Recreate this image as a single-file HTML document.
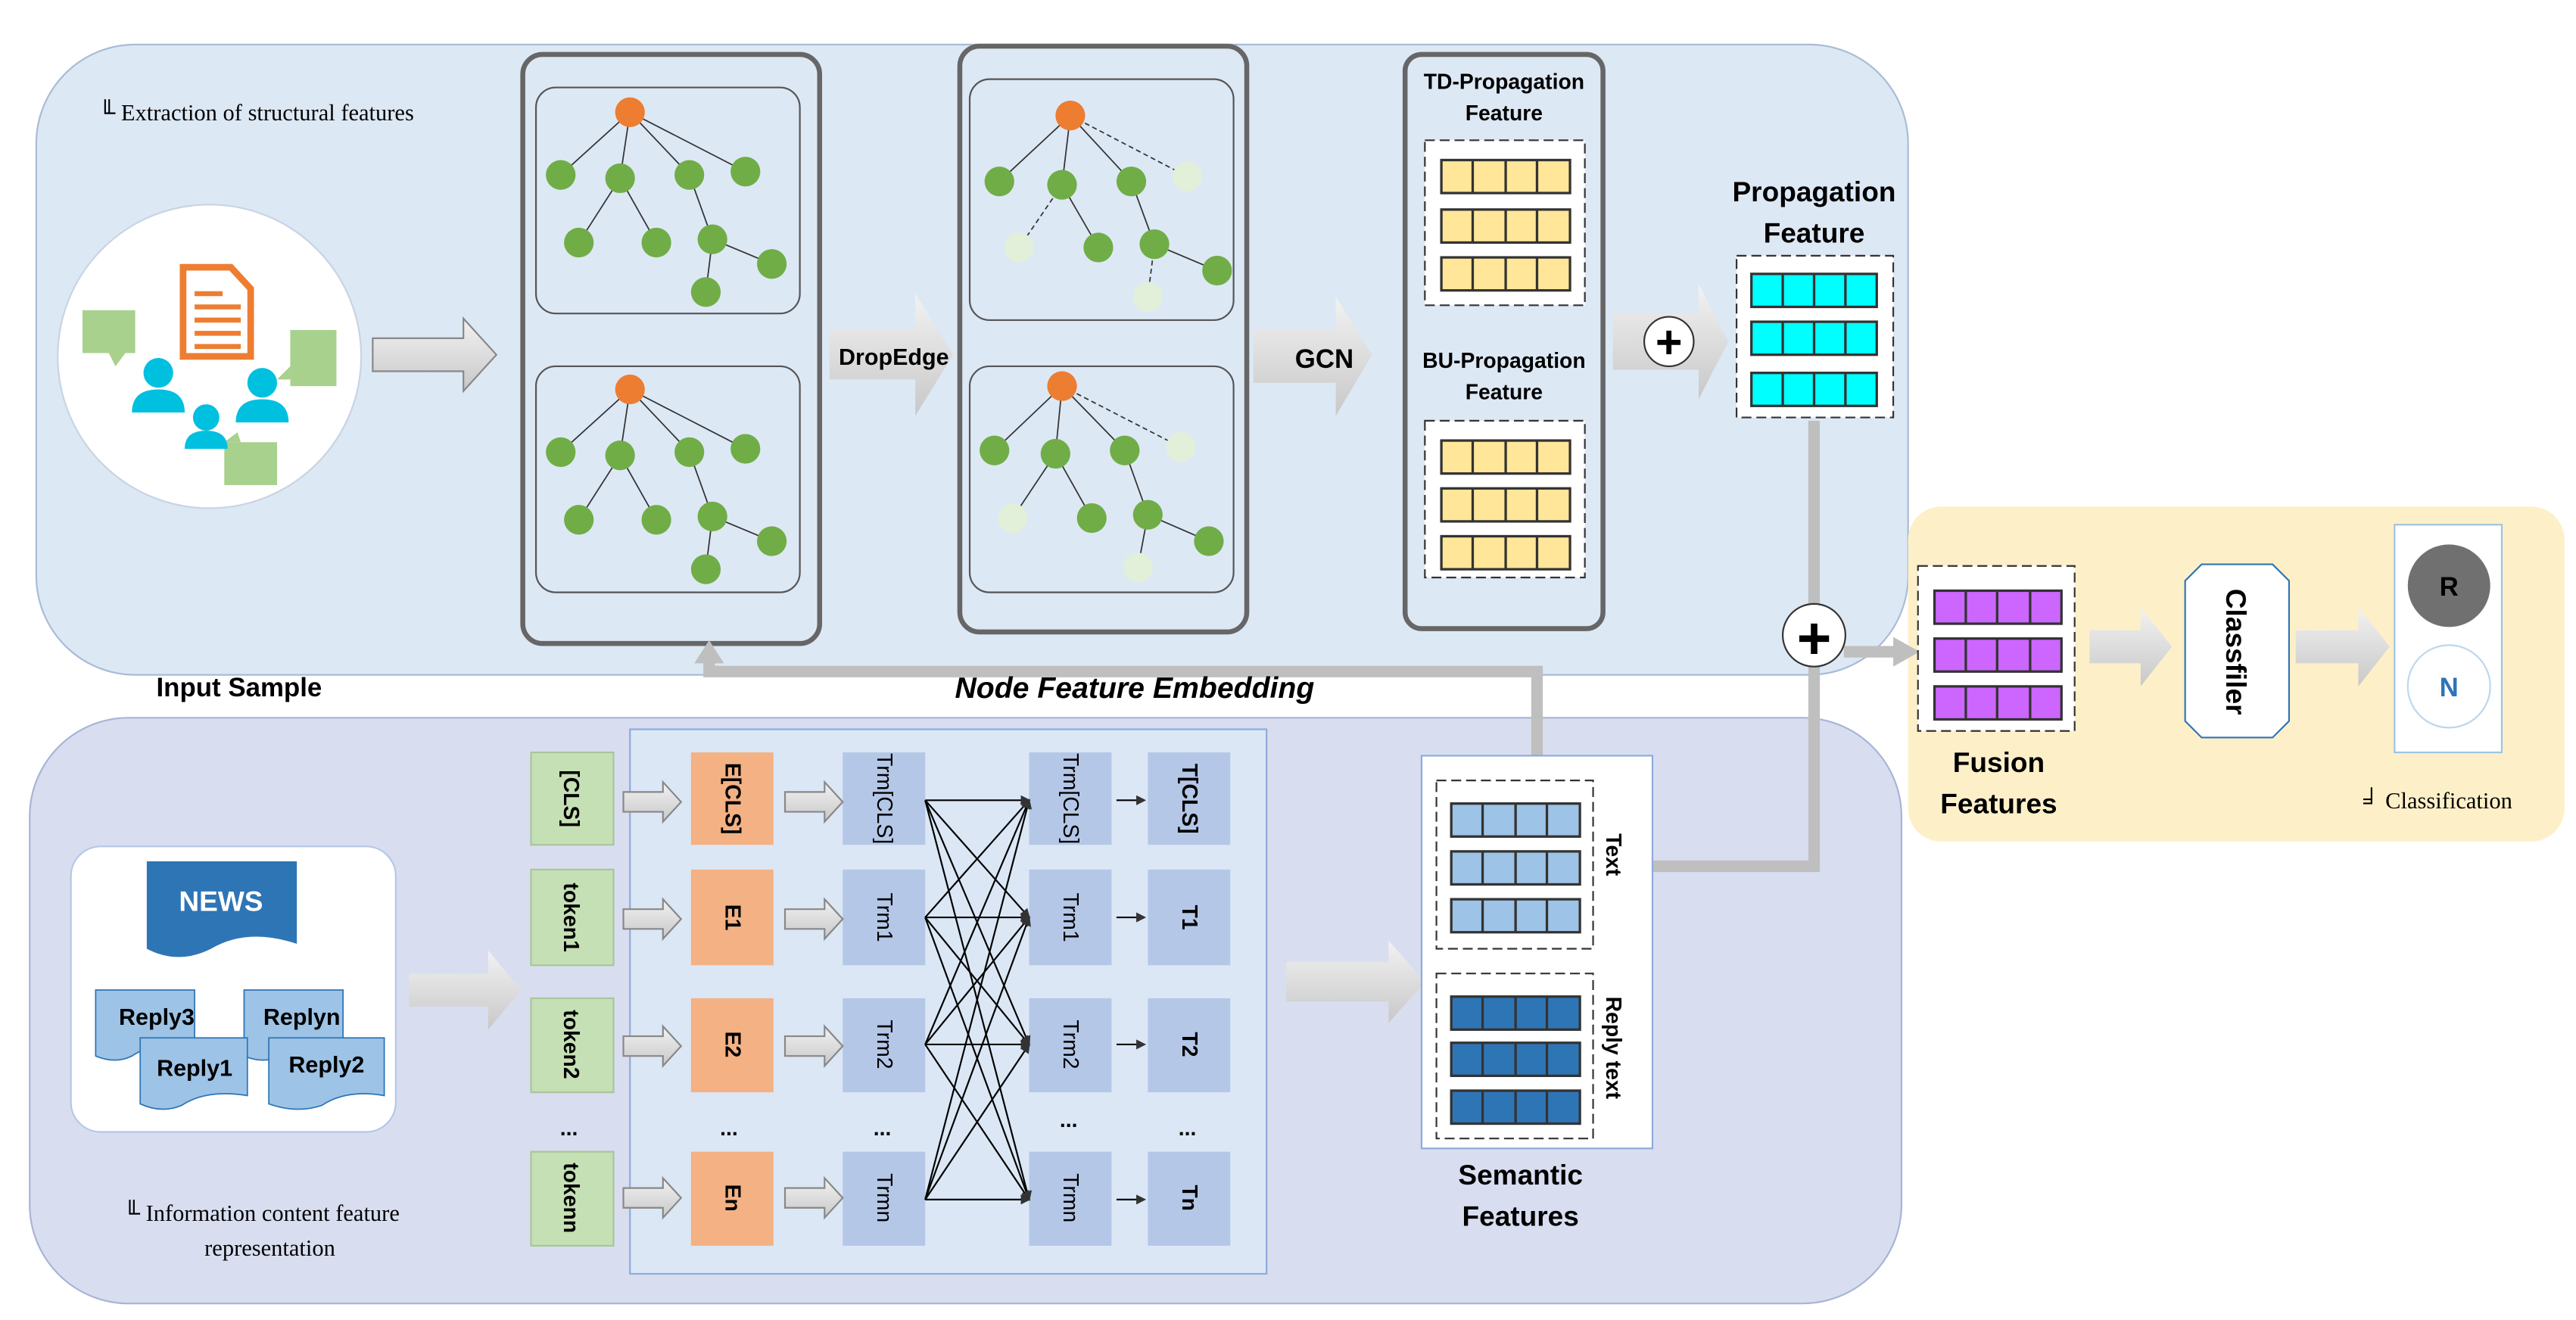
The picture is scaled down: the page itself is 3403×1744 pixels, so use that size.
<!DOCTYPE html>
<html><head><meta charset="utf-8"><style>html,body{margin:0;padding:0;background:#fff}svg{display:block}</style></head>
<body>
<svg width="3403" height="1744" viewBox="0 0 1562 800" preserveAspectRatio="none" xmlns="http://www.w3.org/2000/svg" font-family="Liberation Sans, sans-serif">
<defs>
<marker id="ah" markerWidth="8" markerHeight="8" refX="7" refY="4" orient="auto"><path d="M0,0 L8,4 L0,8 z" fill="#000"/></marker>
<marker id="ahs" markerWidth="6" markerHeight="6" refX="5" refY="3" orient="auto"><path d="M0,0 L6,3 L0,6 z" fill="#333"/></marker>
<linearGradient id="ga" x1="0" y1="0" x2="0" y2="1"><stop offset="0" stop-color="#f2f2f2"/><stop offset="1" stop-color="#c8c8c8"/></linearGradient>
<g id="barr"><path d="M0,-10 L55,-10 L55,-22 L75,0 L55,22 L55,10 L0,10 z" fill="url(#ga)" stroke="#888" stroke-width="1"/></g>
<g id="sarr"><path d="M0,-6 L24,-6 L24,-12 L35,0 L24,12 L24,6 L0,6 z" fill="url(#ga)" stroke="#888" stroke-width="1"/></g>
</defs>
<!-- panels -->
<rect x="22" y="27" width="1135" height="382" rx="60" fill="#dde8f5" stroke="#a8bcd6"/>
<rect x="18" y="435" width="1135" height="355" rx="60" fill="#d8def0" stroke="#a8b4d6"/>
<rect x="1157" y="307" width="398" height="203" rx="20" fill="#fdf0c8"/>

<text x="60" y="73" font-family="Liberation Serif, serif" font-size="14">╙ Extraction of structural features</text>
<text x="75" y="740" font-family="Liberation Serif, serif" font-size="14">╙ Information content feature</text>
<text x="124" y="761" font-family="Liberation Serif, serif" font-size="14">representation</text>
<text x="1433" y="490" font-family="Liberation Serif, serif" font-size="14">╛ Classification</text>

<!-- input circle -->
<circle cx="127" cy="216" r="92" fill="#fff" stroke="#c8d4e4"/>
<rect x="50" y="188" width="32" height="26" fill="#a9d18e"/><path d="M66,214 L76,214 L70,222z" fill="#a9d18e"/>
<rect x="176" y="200" width="28" height="34" fill="#a9d18e"/><path d="M176,222 L168,230 L176,230z" fill="#a9d18e"/>
<rect x="136" y="268" width="32" height="26" fill="#a9d18e"/><path d="M136,268 L144,262 L146,268z" fill="#a9d18e"/>
<path d="M111,162 L140,162 L152,175 L152,216 L111,216 z" fill="#fff" stroke="#ed7d31" stroke-width="4"/>
<g stroke="#ed7d31" stroke-width="3"><line x1="118" y1="178" x2="135" y2="178"/><line x1="118" y1="186" x2="146" y2="186"/><line x1="118" y1="194" x2="146" y2="194"/><line x1="118" y1="202" x2="146" y2="202"/><line x1="118" y1="210" x2="146" y2="210"/></g>
<g fill="#00c0e0"><circle cx="96" cy="226" r="9"/><path d="M80,250 Q80,236 96,236 Q112,236 112,250z"/>
<circle cx="159" cy="232" r="9"/><path d="M143,256 Q143,242 159,242 Q175,242 175,256z"/>
<circle cx="125" cy="253" r="8"/><path d="M112,272 Q112,261 125,261 Q138,261 138,272z"/></g>
<text x="145" y="422" font-size="16" font-weight="bold" text-anchor="middle">Input Sample</text>

<use href="#barr" x="226" y="215"/>
<!-- box1 -->
<rect x="317" y="33" width="180" height="357" rx="12" fill="none" stroke="#666" stroke-width="3"/>
<rect x="325" y="53" width="160" height="137" rx="12" fill="none" stroke="#555"/>
<rect x="325" y="222" width="160" height="137" rx="12" fill="none" stroke="#555"/>
<g stroke="#333" stroke-width="0.8">
<line x1="382" y1="68" x2="340" y2="106"/><line x1="382" y1="68" x2="376" y2="108"/><line x1="382" y1="68" x2="418" y2="106"/><line x1="382" y1="68" x2="452" y2="104"/>
<line x1="376" y1="108" x2="351" y2="147"/><line x1="376" y1="108" x2="398" y2="147"/><line x1="418" y1="106" x2="432" y2="145"/><line x1="432" y1="145" x2="428" y2="177"/><line x1="432" y1="145" x2="468" y2="160"/>
<line x1="382" y1="236" x2="340" y2="274"/><line x1="382" y1="236" x2="376" y2="276"/><line x1="382" y1="236" x2="418" y2="274"/><line x1="382" y1="236" x2="452" y2="272"/>
<line x1="376" y1="276" x2="351" y2="315"/><line x1="376" y1="276" x2="398" y2="315"/><line x1="418" y1="274" x2="432" y2="313"/><line x1="432" y1="313" x2="428" y2="345"/><line x1="432" y1="313" x2="468" y2="328"/>
</g>
<g fill="#70ad47"><circle cx="340" cy="106" r="9"/><circle cx="376" cy="108" r="9"/><circle cx="418" cy="106" r="9"/><circle cx="452" cy="104" r="9"/><circle cx="351" cy="147" r="9"/><circle cx="398" cy="147" r="9"/><circle cx="432" cy="145" r="9"/><circle cx="428" cy="177" r="9"/><circle cx="468" cy="160" r="9"/>
<circle cx="340" cy="274" r="9"/><circle cx="376" cy="276" r="9"/><circle cx="418" cy="274" r="9"/><circle cx="452" cy="272" r="9"/><circle cx="351" cy="315" r="9"/><circle cx="398" cy="315" r="9"/><circle cx="432" cy="313" r="9"/><circle cx="428" cy="345" r="9"/><circle cx="468" cy="328" r="9"/></g>
<circle cx="382" cy="68" r="9" fill="#ed7d31"/><circle cx="382" cy="236" r="9" fill="#ed7d31"/>

<path d="M503,200 L555,200 L555,178 L578,215 L555,252 L555,230 L503,230z" fill="url(#ga)"/>
<text x="542" y="221" font-size="14" font-weight="bold" text-anchor="middle">DropEdge</text>
<!-- box2 -->
<rect x="582" y="28" width="174" height="355" rx="12" fill="none" stroke="#666" stroke-width="3"/>
<rect x="588" y="48" width="160" height="146" rx="12" fill="none" stroke="#555"/>
<rect x="588" y="222" width="160" height="137" rx="12" fill="none" stroke="#555"/>
<g stroke="#333" stroke-width="0.8">
<line x1="649" y1="70" x2="606" y2="110"/><line x1="649" y1="70" x2="644" y2="112"/><line x1="649" y1="70" x2="686" y2="110"/><line x1="649" y1="70" x2="720" y2="107" stroke-dasharray="3,2"/>
<line x1="644" y1="112" x2="618" y2="150" stroke-dasharray="3,2"/><line x1="644" y1="112" x2="666" y2="150"/><line x1="686" y1="110" x2="700" y2="148"/><line x1="700" y1="148" x2="696" y2="180" stroke-dasharray="3,2"/><line x1="700" y1="148" x2="738" y2="164"/>
<line x1="644" y1="234" x2="603" y2="273"/><line x1="644" y1="234" x2="640" y2="275"/><line x1="644" y1="234" x2="682" y2="273"/><line x1="644" y1="234" x2="716" y2="271" stroke-dasharray="3,2"/>
<line x1="640" y1="275" x2="614" y2="314"/><line x1="640" y1="275" x2="662" y2="314"/><line x1="682" y1="273" x2="696" y2="312"/><line x1="696" y1="312" x2="690" y2="344"/><line x1="696" y1="312" x2="733" y2="328"/>
</g>
<g fill="#70ad47"><circle cx="606" cy="110" r="9"/><circle cx="644" cy="112" r="9"/><circle cx="686" cy="110" r="9"/><circle cx="666" cy="150" r="9"/><circle cx="700" cy="148" r="9"/><circle cx="738" cy="164" r="9"/>
<circle cx="603" cy="273" r="9"/><circle cx="640" cy="275" r="9"/><circle cx="682" cy="273" r="9"/><circle cx="662" cy="314" r="9"/><circle cx="696" cy="312" r="9"/><circle cx="733" cy="328" r="9"/></g>
<g fill="#e2efd9"><circle cx="720" cy="107" r="9"/><circle cx="618" cy="150" r="9"/><circle cx="696" cy="180" r="9"/><circle cx="716" cy="271" r="9"/><circle cx="614" cy="314" r="9"/><circle cx="690" cy="344" r="9"/></g>
<circle cx="649" cy="70" r="9" fill="#ed7d31"/><circle cx="644" cy="234" r="9" fill="#ed7d31"/>

<path d="M760,200 L810,200 L810,180 L832,215 L810,252 L810,232 L760,232z" fill="url(#ga)"/>
<text x="803" y="223" font-size="16" font-weight="bold" text-anchor="middle">GCN</text>
<!-- box3 -->
<rect x="852" y="33" width="120" height="348" rx="10" fill="none" stroke="#666" stroke-width="3"/>
<text x="912" y="54" font-size="13" font-weight="bold" text-anchor="middle">TD-Propagation</text>
<text x="912" y="73" font-size="13" font-weight="bold" text-anchor="middle">Feature</text>
<text x="912" y="223" font-size="13" font-weight="bold" text-anchor="middle">BU-Propagation</text>
<text x="912" y="242" font-size="13" font-weight="bold" text-anchor="middle">Feature</text>
<rect x="864" y="85" width="97" height="100" fill="#fff" stroke="#333" stroke-dasharray="6,3"/>
<rect x="864" y="255" width="97" height="95" fill="#fff" stroke="#333" stroke-dasharray="6,3"/>
<g fill="#ffe699" stroke="#333" stroke-width="1.5">
<rect x="874" y="97" width="78" height="20"/><rect x="874" y="127" width="78" height="20"/><rect x="874" y="156" width="78" height="20"/>
<rect x="874" y="267" width="78" height="20"/><rect x="874" y="296" width="78" height="20"/><rect x="874" y="325" width="78" height="20"/></g>
<g stroke="#333" stroke-width="1.5"><path d="M893,97v20M913,97v20M932,97v20M893,127v20M913,127v20M932,127v20M893,156v20M913,156v20M932,156v20M893,267v20M913,267v20M932,267v20M893,296v20M913,296v20M932,296v20M893,325v20M913,325v20M932,325v20"/></g>

<path d="M978,190 L1030,190 L1030,172 L1048,207 L1030,242 L1030,224 L978,224z" fill="url(#ga)"/>
<circle cx="1012" cy="207" r="15" fill="#fff" stroke="#333"/><text x="1012" y="217" font-size="28" font-weight="bold" text-anchor="middle">+</text>

<text x="1100" y="122" font-size="17" font-weight="bold" text-anchor="middle">Propagation</text>
<text x="1100" y="147" font-size="17" font-weight="bold" text-anchor="middle">Feature</text>
<rect x="1053" y="155" width="95" height="98" fill="#fff" stroke="#333" stroke-dasharray="6,3"/>
<g fill="#00ffff" stroke="#333" stroke-width="1.5"><rect x="1062" y="166" width="76" height="20"/><rect x="1062" y="195" width="76" height="20"/><rect x="1062" y="226" width="76" height="20"/></g>
<path d="M1081,166v20M1100,166v20M1119,166v20M1081,195v20M1100,195v20M1119,195v20M1081,226v20M1100,226v20M1119,226v20" stroke="#333" stroke-width="1.5"/>

<!-- grey connectors -->
<g stroke="#bfbfbf" stroke-width="7" fill="none">
<line x1="1100" y1="255" x2="1100" y2="368"/>
<polyline points="1002,525 1100,525 1100,403"/>
<line x1="1118" y1="395" x2="1150" y2="395"/>
<polyline points="932,458 932,407 430,407 430,400"/>
</g>
<path d="M1148,386 L1164,395 L1148,404z" fill="#bfbfbf"/>
<path d="M421,402 L430,388 L439,402z" fill="#bfbfbf"/>
<circle cx="1100" cy="385" r="19" fill="#fff" stroke="#333"/><text x="1100" y="399" font-size="36" font-weight="bold" text-anchor="middle">+</text>
<text x="688" y="423" font-size="18" font-weight="bold" font-style="italic" text-anchor="middle">Node Feature Embedding</text>

<!-- fusion -->
<rect x="1163" y="343" width="95" height="100" fill="#fff" stroke="#333" stroke-dasharray="6,3"/>
<g fill="#cc66ff" stroke="#333" stroke-width="1.5"><rect x="1173" y="358" width="77" height="20"/><rect x="1173" y="387" width="77" height="20"/><rect x="1173" y="416" width="77" height="20"/></g>
<path d="M1192,358v20M1211,358v20M1231,358v20M1192,387v20M1211,387v20M1231,387v20M1192,416v20M1211,416v20M1231,416v20" stroke="#333" stroke-width="1.5"/>
<text x="1212" y="468" font-size="17" font-weight="bold" text-anchor="middle">Fusion</text>
<text x="1212" y="493" font-size="17" font-weight="bold" text-anchor="middle">Features</text>
<path d="M1267,382 L1298,382 L1298,368 L1317,392 L1298,416 L1298,402 L1267,402z" fill="url(#ga)"/>
<path d="M1335,342 L1378,342 L1388,352 L1388,437 L1378,447 L1335,447 L1325,437 L1325,352z" fill="#fff" stroke="#2e75b6"/>
<text transform="translate(1350,395) rotate(90)" font-size="17" font-weight="bold" text-anchor="middle">Classfiler</text>
<path d="M1392,382 L1430,382 L1430,368 L1449,392 L1430,416 L1430,402 L1392,402z" fill="url(#ga)"/>
<rect x="1452" y="318" width="65" height="138" fill="#fff" stroke="#9dc3e6"/>
<circle cx="1485" cy="355" r="25" fill="#707070"/><text x="1485" y="361" font-size="16" font-weight="bold" text-anchor="middle">R</text>
<circle cx="1485" cy="416" r="25" fill="#fff" stroke="#bdd7ee"/><text x="1485" y="422" font-size="16" font-weight="bold" fill="#2e75b6" text-anchor="middle">N</text>

<!-- bottom -->
<rect x="43" y="513" width="197" height="173" rx="18" fill="#fff" stroke="#b4c7e7"/>
<path d="M89,522 L180,522 L180,572 Q150,562 128,575 Q108,585 89,575z" fill="#2e75b6"/>
<text x="134" y="552" font-size="17" font-weight="bold" fill="#fff" text-anchor="middle">NEWS</text>
<g fill="#9dc3e6" stroke="#2e75b6" stroke-width="0.8">
<path d="M58,600 L118,600 L118,635 Q95,630 80,640 Q70,645 58,640z"/>
<path d="M148,600 L208,600 L208,635 Q185,630 170,640 Q160,645 148,640z"/>
<path d="M85,629 L150,629 L150,664 Q125,660 110,670 Q98,675 85,669z"/>
<path d="M163,629 L233,629 L233,664 Q210,660 195,670 Q180,675 163,669z"/></g>
<g font-size="14" font-weight="bold" text-anchor="middle"><text x="95" y="621">Reply3</text><text x="183" y="621">Replyn</text><text x="118" y="652">Reply1</text><text x="198" y="650">Reply2</text></g>

<path d="M248,590 L296,590 L296,576 L316,600 L296,624 L296,610 L248,610z" fill="url(#ga)"/>
<rect x="382" y="442" width="386" height="330" fill="#dbe7f5" stroke="#8eaadb"/>
<g fill="#c5e0b4" stroke="#a9c59a"><rect x="322" y="456" width="50" height="56"/><rect x="322" y="527" width="50" height="58"/><rect x="322" y="605" width="50" height="57"/><rect x="322" y="698" width="50" height="57"/></g>
<g fill="#f4b183"><rect x="419" y="456" width="50" height="56"/><rect x="419" y="527" width="50" height="58"/><rect x="419" y="605" width="50" height="57"/><rect x="419" y="698" width="50" height="57"/></g>
<g fill="#b4c7e7"><rect x="511" y="456" width="50" height="56"/><rect x="511" y="527" width="50" height="58"/><rect x="511" y="605" width="50" height="57"/><rect x="511" y="698" width="50" height="57"/>
<rect x="624" y="456" width="50" height="56"/><rect x="624" y="527" width="50" height="58"/><rect x="624" y="605" width="50" height="57"/><rect x="624" y="698" width="50" height="57"/>
<rect x="696" y="456" width="50" height="56"/><rect x="696" y="527" width="50" height="58"/><rect x="696" y="605" width="50" height="57"/><rect x="696" y="698" width="50" height="57"/></g>
<g font-size="13" font-weight="bold" text-anchor="middle">
<text transform="translate(342,484) rotate(90)">[CLS]</text><text transform="translate(342,556) rotate(90)">token1</text><text transform="translate(342,633) rotate(90)">token2</text><text transform="translate(342,726) rotate(90)">tokenn</text>
<text transform="translate(440,484) rotate(90)">E[CLS]</text><text transform="translate(440,556) rotate(90)">E1</text><text transform="translate(440,633) rotate(90)">E2</text><text transform="translate(440,726) rotate(90)">En</text>
<text transform="translate(532,484) rotate(90)" font-weight="normal">Trm[CLS]</text><text transform="translate(532,556) rotate(90)" font-weight="normal">Trm1</text><text transform="translate(532,633) rotate(90)" font-weight="normal">Trm2</text><text transform="translate(532,726) rotate(90)" font-weight="normal">Trmn</text>
<text transform="translate(645,484) rotate(90)" font-weight="normal">Trm[CLS]</text><text transform="translate(645,556) rotate(90)" font-weight="normal">Trm1</text><text transform="translate(645,633) rotate(90)" font-weight="normal">Trm2</text><text transform="translate(645,726) rotate(90)" font-weight="normal">Trmn</text>
<text transform="translate(717,484) rotate(90)">T[CLS]</text><text transform="translate(717,556) rotate(90)">T1</text><text transform="translate(717,633) rotate(90)">T2</text><text transform="translate(717,726) rotate(90)">Tn</text>
<text x="345" y="688">...</text><text x="442" y="688">...</text><text x="535" y="688">...</text><text x="648" y="683">...</text><text x="720" y="688">...</text></g>
<use href="#sarr" x="378" y="486"/><use href="#sarr" x="378" y="557"/><use href="#sarr" x="378" y="634"/><use href="#sarr" x="378" y="726"/>
<use href="#sarr" x="476" y="486"/><use href="#sarr" x="476" y="557"/><use href="#sarr" x="476" y="634"/><use href="#sarr" x="476" y="726"/>
<g stroke="#000" stroke-width="1" marker-end="url(#ahs)">
<line x1="561" y1="485" x2="624" y2="485"/><line x1="561" y1="485" x2="624" y2="556"/><line x1="561" y1="485" x2="624" y2="633"/><line x1="561" y1="485" x2="624" y2="727"/>
<line x1="561" y1="556" x2="624" y2="485"/><line x1="561" y1="556" x2="624" y2="556"/><line x1="561" y1="556" x2="624" y2="633"/><line x1="561" y1="556" x2="624" y2="727"/>
<line x1="561" y1="633" x2="624" y2="485"/><line x1="561" y1="633" x2="624" y2="556"/><line x1="561" y1="633" x2="624" y2="633"/><line x1="561" y1="633" x2="624" y2="727"/>
<line x1="561" y1="727" x2="624" y2="485"/><line x1="561" y1="727" x2="624" y2="556"/><line x1="561" y1="727" x2="624" y2="633"/><line x1="561" y1="727" x2="624" y2="727"/>
<line x1="677" y1="485" x2="694" y2="485"/><line x1="677" y1="556" x2="694" y2="556"/><line x1="677" y1="633" x2="694" y2="633"/><line x1="677" y1="727" x2="694" y2="727"/></g>

<path d="M780,583 L842,583 L842,570 L864,595 L842,620 L842,607 L780,607z" fill="url(#ga)"/>
<rect x="862" y="458" width="140" height="238" fill="#fff" stroke="#8eaadb"/>
<rect x="871" y="473" width="95" height="102" fill="#fff" stroke="#333" stroke-dasharray="6,3"/>
<rect x="871" y="590" width="95" height="100" fill="#fff" stroke="#333" stroke-dasharray="6,3"/>
<g fill="#9dc3e6" stroke="#333" stroke-width="1.5"><rect x="880" y="487" width="78" height="20"/><rect x="880" y="516" width="78" height="20"/><rect x="880" y="545" width="78" height="20"/></g>
<g fill="#2e75b6" stroke="#333" stroke-width="1.5"><rect x="880" y="604" width="78" height="20"/><rect x="880" y="632" width="78" height="20"/><rect x="880" y="661" width="78" height="20"/></g>
<path d="M899,487v20M919,487v20M938,487v20M899,516v20M919,516v20M938,516v20M899,545v20M919,545v20M938,545v20M899,604v20M919,604v20M938,604v20M899,632v20M919,632v20M938,632v20M899,661v20M919,661v20M938,661v20" stroke="#333" stroke-width="1.5"/>
<text transform="translate(974,518) rotate(90)" font-size="13" font-weight="bold" text-anchor="middle">Text</text>
<text transform="translate(974,635) rotate(90)" font-size="13" font-weight="bold" text-anchor="middle">Reply text</text>
<text x="922" y="718" font-size="17" font-weight="bold" text-anchor="middle">Semantic</text>
<text x="922" y="743" font-size="17" font-weight="bold" text-anchor="middle">Features</text>
</svg>
</body></html>
